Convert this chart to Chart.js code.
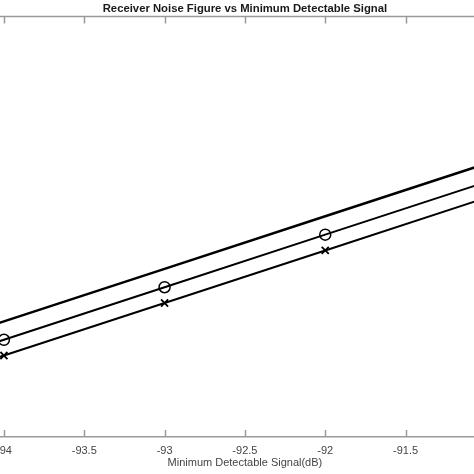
<!DOCTYPE html>
<html>
<head>
<meta charset="utf-8">
<script src="https://cdn.jsdelivr.net/npm/chart.js@4"></script>
<style>
    html, body { margin: 0; padding: 0; background: #fff; overflow: hidden; width: 474px; height: 474px; }
    #chart { position: absolute; left: -120px; top: 0; }
</style>
</head>
<body>
<canvas id="chart" width="730" height="474"></canvas>
<script>
// ── Data ───────────────────────────────────────────────
const mds = [-95, -94, -93, -92, -91, -90];             // Minimum Detectable Signal (dB)
const nfTop = [1.2, 2.2, 3.2, 4.2, 5.2, 6.2];           // plain line
const nfCircle = [0.85, 1.85, 2.85, 3.85, 4.85, 5.85];  // circle markers
const nfCross = [0.55, 1.55, 2.55, 3.55, 4.55, 5.55];   // x markers
const xTicks = [-94.5, -94, -93.5, -93, -92.5, -92, -91.5, -91, -90.5];

const AXIS_GREY = '#9a9a9a';
const FONT = 'Arial, "Liberation Sans", sans-serif';

// inward tick marks top and bottom, plus top box edge (MATLAB style)
const boxTicks = {
    id: 'boxTicks',
    afterDraw(chart) {
        const { ctx, chartArea: a, scales: { x } } = chart;
        ctx.save();
        ctx.strokeStyle = AXIS_GREY;
        ctx.lineWidth = 1.5;
        ctx.beginPath();
        ctx.moveTo(a.left, a.top);
        ctx.lineTo(a.right, a.top);
        x.ticks.forEach(t => {
            const px = Math.round(x.getPixelForValue(t.value)) + 0.5;
            ctx.moveTo(px, a.bottom);
            ctx.lineTo(px, a.bottom - 7);
            ctx.moveTo(px, a.top);
            ctx.lineTo(px, a.top + 7);
        });
        ctx.stroke();
        ctx.restore();
    }
};

const toPts = ys => mds.map((m, i) => ({ x: m, y: ys[i] }));

new Chart(document.getElementById('chart').getContext('2d'), {
    type: 'line',
    data: {
        datasets: [
            {
                data: toPts(nfTop),
                borderColor: '#000',
                borderWidth: 2.5,
                pointRadius: 0
            },
            {
                data: toPts(nfCircle),
                borderColor: '#000',
                borderWidth: 2,
                pointStyle: 'circle',
                pointRadius: 5.5,
                pointBorderWidth: 1.5,
                pointBackgroundColor: 'rgba(0,0,0,0)',
                pointBorderColor: '#000'
            },
            {
                data: toPts(nfCross),
                borderColor: '#000',
                borderWidth: 2,
                pointStyle: 'crossRot',
                pointRadius: 5,
                pointBorderWidth: 1.8,
                pointBorderColor: '#000'
            }
        ]
    },
    options: {
        responsive: false,
        animation: false,
        layout: { padding: { left: 43.6, right: 43.8, top: 0, bottom: 0 } },
        plugins: {
            legend: { display: false },
            tooltip: { enabled: false },
            title: {
                display: true,
                text: 'Receiver Noise Figure vs Minimum Detectable Signal',
                color: '#1a1a1a',
                font: { family: FONT, size: 11.3, weight: 'bold' },
                padding: { top: 2, bottom: 1 }
            }
        },
        scales: {
            x: {
                type: 'linear',
                min: -94.5,
                max: -90.5,
                afterBuildTicks: s => { s.ticks = xTicks.map(v => ({ value: v })); },
                afterFit: s => { s.height = 37; },
                grid: { display: false, drawTicks: false },
                border: { display: true, color: AXIS_GREY, width: 1.5 },
                ticks: {
                    color: '#444',
                    padding: 7,
                    maxRotation: 0,
                    autoSkip: false,
                    font: { family: FONT, size: 11 },
                    callback: v => String(v)
                },
                title: {
                    display: true,
                    text: 'Minimum Detectable Signal(dB)',
                    color: '#444',
                    padding: { top: 0, bottom: 4.4 },
                    font: { family: FONT, size: 11 }
                }
            },
            y: {
                display: false,
                min: 0,
                max: 8
            }
        }
    },
    plugins: [boxTicks]
});
</script>
</body>
</html>
